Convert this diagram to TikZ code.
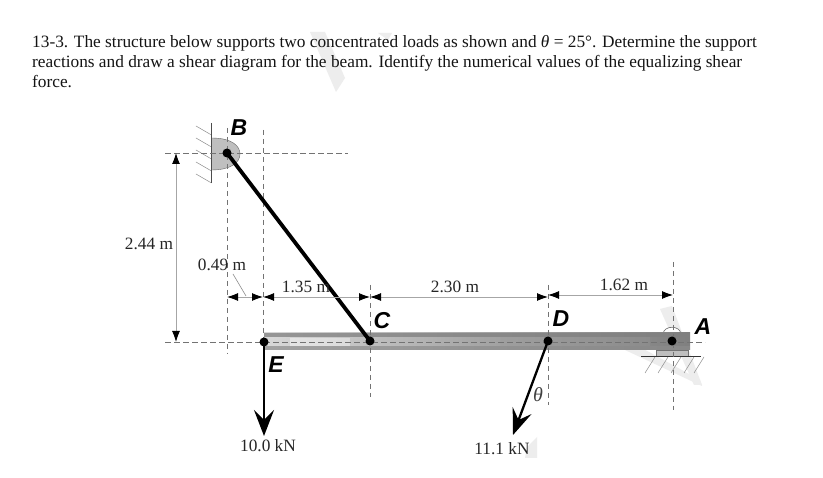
\documentclass[tikz,border=0pt]{standalone}
\usepackage{fontspec}
\setmainfont{Liberation Serif}
\newfontfamily\labelfont{Liberation Sans}
\usetikzlibrary{arrows.meta,calc}
\tikzset{
  para/.style={anchor=base west,inner sep=0pt,font=\fontsize{17.3}{19}\selectfont,text=black!92},
  dimtext/.style={inner sep=0pt,font=\fontsize{17.3}{19}\selectfont,text=black!85},
  ptlabel/.style={inner sep=0pt,font=\labelfont\bfseries\itshape\fontsize{23}{25}\selectfont},
  pin/.style={circle,fill=black,inner sep=0pt,minimum size=9pt},
  dashline/.style={draw=black!55,line width=0.8pt,dash pattern=on 5.5pt off 3.5pt},
  dimtip/.style={draw=black!35,line width=0.9pt,{Latex[black,length=11pt,width=8pt]}-{Latex[black,length=11pt,width=8pt]}},
  onetip/.style={draw=black!35,line width=0.9pt,-{Latex[black,length=11pt,width=8pt]}},
  force/.style={draw=black,line width=2.3pt,-{Stealth[black,length=26pt,width=20pt,inset=10pt]}},
  hatchline/.style={draw=black!45,line width=0.5pt},
  watermark/.style={fill=black!7,draw=none},
}
\begin{document}
\begin{tikzpicture}[x=1pt,y=-1pt]
\useasboundingbox (0,0) rectangle (823,478);
\fill[white] (0,0) rectangle (823,478);
% faint watermark marks
\fill[watermark] (310,32) -- (325,32) -- (345,78) -- (336,92) -- cycle;
\fill[watermark] (378,33) -- (392,33) -- (388,40) -- cycle;
\fill[watermark] (660,309) -- (672,306) -- (702,385) -- (694,385) -- cycle;
\fill[watermark] (625,350) -- (640,347) -- (700,380) -- (702,386) -- cycle;
\fill[watermark] (527,447) -- (537,437) -- (537,458) -- (525,458) -- cycle;
% text
\node[para] (l1) at (32,48) {13-3. The structure below supports two concentrated loads as shown and \textit{θ} = 25°. Determine the support};
\node[para] (l2) at (32,68) {reactions and draw a shear diagram for the beam. Identify the numerical values of the equalizing shear};
\node[para] (l3) at (32,88) {force.};
% key points
\coordinate (B) at (227,153);
\coordinate (E) at (264,342);
\coordinate (C) at (370,341);
\coordinate (D) at (548,341);
\coordinate (A) at (672,341);
% support at A, part behind the beam
\draw[black!60,fill=white,line width=.6pt] (663,334) .. controls (664,325) and (680,325) .. (681,334);
% beam
\shade[left color=black!15,right color=black!50,middle color=black!35] (264,333) rectangle (690,350);
\fill[black!50,opacity=.75] (264,333) rectangle (690,337.5);
\fill[black!45,opacity=.7] (264,346) rectangle (690,350);
\fill[black!40,opacity=.3] (500,337) rectangle (650,346);
\fill[white,opacity=.4] (290,338) rectangle (350,346);
% wall at B
\fill[black!25,draw=black!60,line width=.4pt] (211.5,138) .. controls (232,138) and (240,146) .. (240,154) .. controls (240,163) and (230,170) .. (211.5,170) -- cycle;
\foreach \yy in {127,139,151,163,175}
  \draw[hatchline] (211.5,\yy+8) -- (196,\yy-1);
\draw[draw=black!70,line width=.8pt] (211.5,123) -- (211.5,183);
% support at A
\fill[black!25,draw=black!55,line width=.4pt] (656,350) rectangle (688,356);
\draw[draw=black!80,line width=.8pt] (641,356.7) -- (701,356.7);
\foreach \xx in {655,668,681,694,704}
  \draw[hatchline] (\xx,357) -- (\xx-10,373);
% dashed reference lines
\draw[dashline] (165,153) -- (348,153);
\draw[dashline] (165,342) -- (705,342);
\draw[dashline] (227,128) -- (227,354);
\draw[dashline] (263,130) -- (263,342);
\draw[dashline] (370,285) -- (370,397);
\draw[dashline] (548,285) -- (548,405);
\draw[dashline] (673,262) -- (673,410);
% pins
\node[pin] (pB) at (B) {};
\node[pin] (pE) at (E) {};
\node[pin] (pC) at (C) {};
\node[pin] (pD) at (D) {};
\node[pin] (pA) at (A) {};
% strut
\draw[black,line width=3.8pt] (pB.center) -- (pC.center);
% forces
\coordinate (Eend) at (264,436);
\coordinate (Dend) at (513,435);
\draw[force] (pE.center) -- (Eend);
\draw[force] (pD.center) -- (Dend);
% 2.44 dim
\coordinate (h1) at (176,153);
\coordinate (h2) at (176,342);
\draw[dimtip] (h1) -- (h2);
\node[dimtext,fill=white,inner sep=1pt] (t244) at (149,244) {2.44 m};
% horizontal dims
\coordinate (a0) at (227,297);
\coordinate (a1) at (263,297);
\coordinate (a2) at (370,297);
\coordinate (a3) at (548,297);
\coordinate (a4) at (673,295);
\coordinate (a3b) at (548,295);
\draw[onetip] (247,297) -- (a0);
\draw[onetip] (247,297) -- (a1);
\draw[onetip] (322,297) -- (a1);
\draw[onetip] (322,297) -- (a2);
\draw[onetip] (458,297) -- (a2);
\draw[onetip] (458,297) -- (a3);
\draw[onetip] (620,295) -- (a3b);
\draw[onetip] (620,295) -- (a4);
\node[dimtext] (t049) at (222,265) {0.49 m};
\draw[draw=black!45,line width=.6pt] (233,274) -- (246,296);
\node[dimtext] (t135) at (306,287) {1.35 m};
\node[dimtext] (t230) at (455,287) {2.30 m};
\node[dimtext] (t162) at (624,285) {1.62 m};
\node[dimtext] (t100) at (268,446) {10.0 kN};
\node[dimtext] (t111) at (502,449) {11.1 kN};
\node[inner sep=0pt,font=\itshape\fontsize{20}{22}\selectfont,text=black!75] (th) at (538,395) {θ};
% point labels
\node[ptlabel] (lB) at (239,128) {B};
\node[ptlabel] (lC) at (382,321) {C};
\node[ptlabel] (lD) at (561,319) {D};
\node[ptlabel] (lE) at (276,365) {E};
\node[ptlabel] (lA) at (703,327) {A};
\end{tikzpicture}
\end{document}
